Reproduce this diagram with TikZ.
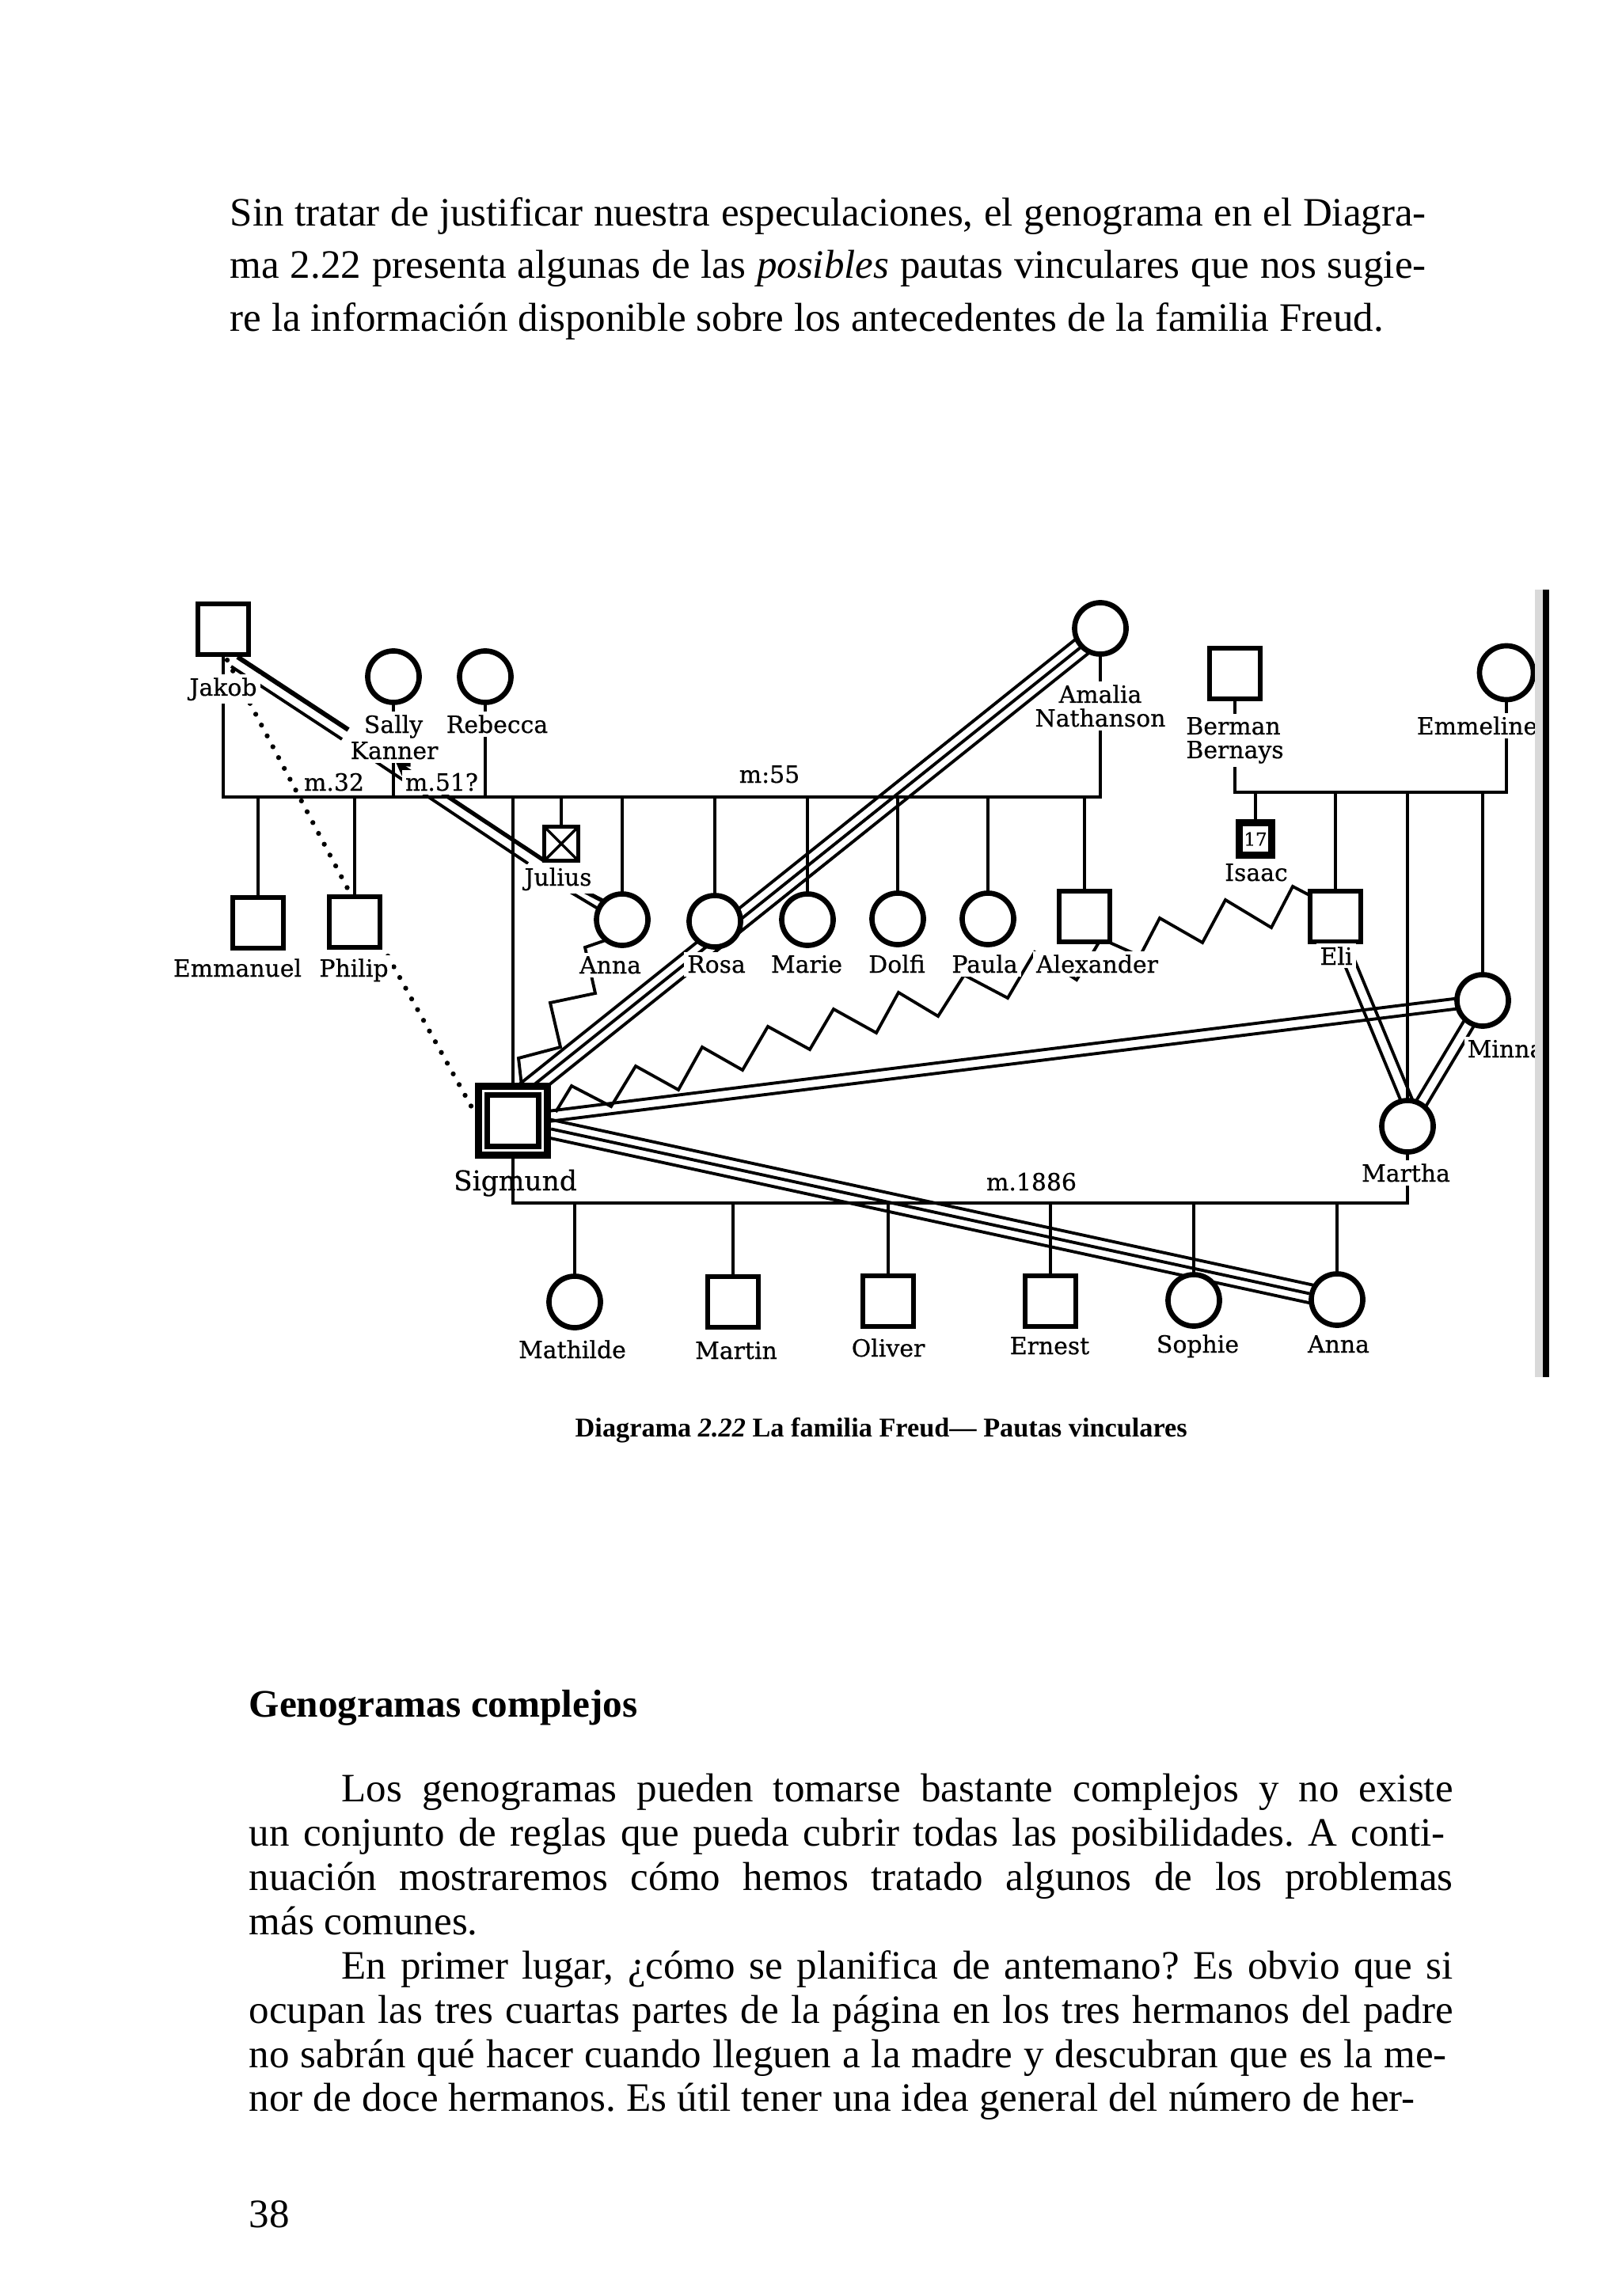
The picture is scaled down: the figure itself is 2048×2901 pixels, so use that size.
\documentclass[tikz,border=0pt]{standalone}
\usepackage{fontspec}
\setmainfont{Liberation Serif}
\newfontfamily\diagfont[FakeBold=0.5]{DejaVu Serif}
\usetikzlibrary{calc,arrows.meta}
\pgfdeclarelayer{back}
\pgfdeclarelayer{lines}
\pgfsetlayers{back,lines,main}
\newcommand\dbl[3]{%
  \draw[ln] ($(#1)!#3!90:(#2)$) -- ($(#2)!#3!-90:(#1)$);
  \draw[ln] ($(#1)!#3!-90:(#2)$) -- ($(#2)!#3!90:(#1)$);}
\newcommand\trp[3]{\dbl{#1}{#2}{#3}\draw[ln] (#1) -- (#2);}
\newcommand\jl[2]{\makebox[#1][s]{#2}}
\frenchspacing
\begin{document}
\begin{tikzpicture}[x=0.01cm,y=-0.01cm,
  ln/.style={line width=1.1pt},
  dots/.style={line width=1.8pt,line cap=round,dash pattern=on 0pt off 4.4pt},
  sq/.style={draw,line width=1.9pt,fill=white,minimum size=0.64cm,inner sep=0pt},
  ci/.style={circle,draw,line width=1.9pt,fill=white,minimum size=0.65cm,inner sep=0pt},
  lb/.style={font=\diagfont\fontsize{8.5}{9}\selectfont,fill=white,inner sep=1.2pt,anchor=base},
  lbt/.style={font=\diagfont\fontsize{8.5}{9}\selectfont,inner sep=1pt,anchor=base},
  body/.style={font=\fontsize{14.5}{16}\selectfont,inner sep=0pt,anchor=base west}]
\begin{pgfonlayer}{back}
\fill[white] (0,0) rectangle (2048,2901);
\end{pgfonlayer}
\useasboundingbox (0,0) rectangle (2048,2901);

% ---------------- body text ----------------
\node[body] (t1) at (290,286) {\jl{15.10cm}{Sin tratar de justificar nuestra especulaciones, el genograma en el Diagra-}};
\node[body] (t2) at (290,352) {\jl{15.10cm}{ma 2.22 presenta algunas de las \textit{posibles} pautas vinculares que nos sugie-}};
\node[body] (t3) at (290,419) {re la información disponible sobre los antecedentes de la familia Freud.};

\node[font=\bfseries\fontsize{9.75}{11}\selectfont,inner sep=0pt,anchor=base west] (cap) at (726,1815) {Diagrama \textit{2.22} La familia Freud— Pautas vinculares};

\node[body,font=\bfseries\fontsize{14}{16}\selectfont] (head) at (314,2169) {Genogramas complejos};
\node[body] (u1) at (431,2276) {\jl{14.03cm}{Los genogramas pueden tomarse bastante complejos y no existe}};
\node[body] (u2) at (314,2332) {\jl{15.10cm}{un conjunto de reglas que pueda cubrir todas las posibilidades. A conti-}};
\node[body] (u3) at (314,2388) {\jl{15.20cm}{nuación mostraremos cómo hemos tratado algunos de los problemas}};
\node[body] (u4) at (314,2444) {más comunes.};
\node[body] (u5) at (431,2500) {\jl{14.03cm}{En primer lugar, ¿cómo se planifica de antemano? Es obvio que si}};
\node[body] (u6) at (314,2556) {\jl{15.20cm}{ocupan las tres cuartas partes de la página en los tres hermanos del padre}};
\node[body] (u7) at (314,2612) {\jl{15.12cm}{no sabrán qué hacer cuando lleguen a la madre y descubran que es la me-}};
\node[body] (u8) at (314,2667) {\jl{14.72cm}{nor de doce hermanos. Es útil tener una idea general del número de her-}};
\node[body] (pg) at (314,2814) {38};

% ---------------- symbols ----------------
\node[sq] (jakob) at (282,795) {};
\node[ci] (sally) at (497,855) {};
\node[ci] (rebecca) at (613,855) {};
\node[ci] (amalia) at (1390,794) {};
\node[sq] (berman) at (1560,851) {};
\node[ci,minimum size=0.68cm] (emmeline) at (1903,850) {};
\node[sq] (emmanuel) at (326,1166) {};
\node[sq] (philip) at (448,1165) {};
\node[sq,minimum size=0.43cm,line width=1.6pt] (julius) at (709,1066) {};
\draw[line width=1pt] ([shift={(5,5)}]julius.north west) -- ([shift={(-5,-5)}]julius.south east)
  ([shift={(-5,5)}]julius.north east) -- ([shift={(5,-5)}]julius.south west);
\node[ci] (anna) at (786,1162) {};
\node[ci] (rosa) at (903,1164) {};
\node[ci] (marie) at (1020,1162) {};
\node[ci] (dolfi) at (1134,1161) {};
\node[ci] (paula) at (1248,1161) {};
\node[sq] (alexander) at (1370,1158) {};
\node[draw,line width=2.6pt,fill=white,minimum size=0.41cm,inner sep=0pt,font=\diagfont\fontsize{6.5}{7}\selectfont] (isaac) at (1586,1060) {17};
\node[sq] (eli) at (1687,1158) {};
\node[ci] (minna) at (1873,1264) {};
\node[ci] (martha) at (1778,1423) {};
\node[draw,line width=2.6pt,fill=white,minimum size=0.87cm,inner sep=0pt] (sig) at (648,1416) {};
\node[draw,line width=1.8pt,minimum size=0.65cm,inner sep=0pt] (sigin) at (sig) {};
\node[ci] (mathilde) at (726,1645) {};
\node[sq] (martin) at (926,1645) {};
\node[sq] (oliver) at (1122,1644) {};
\node[sq] (ernest) at (1327,1644) {};
\node[ci] (sophie) at (1508,1643) {};
\node[ci] (annab) at (1689,1642) {};

% ---------------- labels ----------------
\node[lb] (jakobL) at (282,879) {Jakob};
\node[lb] (sallyL) at (497,926) {Sally};
\node[lb] (kannerL) at (498,959) {Kanner};
\node[lb] (rebeccaL) at (628,926) {Rebecca};
\node[lb] (m32) at (422,999) {m.32};
\node[lb] (m51) at (558,999) {m.51?};
\node[lbt] (m55) at (972,989) {m:55};
\node[lb] (amaliaL) at (1390,888) {Amalia};
\node[lb] (nathL) at (1390,918) {Nathanson};
\node[lb] (bermanL) at (1558,928) {Berman};
\node[lb] (bernaysL) at (1560,958) {Bernays};
\node[lb] (emmL) at (1866,928) {Emmeline};
\node[lb] (juliusL) at (705,1119) {Julius};
\node[lb] (isaacL) at (1587,1113) {Isaac};
\node[lb] (emmanL) at (300,1234) {Emmanuel};
\node[lb] (philipL) at (447,1234) {Philip};
\node[lb] (annaL) at (771,1230) {Anna};
\node[lb] (rosaL) at (905,1229) {Rosa};
\node[lb] (marieL) at (1019,1229) {Marie};
\node[lb] (dolfiL) at (1133,1229) {Dolfi};
\node[lb] (paulaL) at (1244,1229) {Paula};
\node[lb] (alexL) at (1386,1229) {Alexander};
\node[lb] (eliL) at (1688,1219) {Eli};
\node[lb] (minnaL) at (1902,1336) {Minna};
\node[lbt,font=\diagfont\fontsize{9.8}{10}\selectfont] (sigL) at (651,1504) {Sigmund};
\node[lb] (marthaL) at (1776,1493) {Martha};
\node[lbt] (m1886) at (1303,1504) {m.1886};
\node[lb] (mathL) at (723,1716) {Mathilde};
\node[lb] (martinL) at (930,1717) {Martin};
\node[lb] (oliverL) at (1122,1714) {Oliver};
\node[lb] (ernestL) at (1326,1711) {Ernest};
\node[lb] (sophieL) at (1513,1709) {Sophie};
\node[lb] (annabL) at (1691,1709) {Anna};

% scan edge
\fill[black!15] (1939,745) rectangle (1949,1740);
\fill[black] (1949,745) rectangle (1957,1740);

% ---------------- lines ----------------
\begin{pgfonlayer}{lines}
% family lines
\coordinate (mJA) at (700,1007);
\draw[ln] (jakob.south) -- (jakob.south |- mJA) -- (amalia.south |- mJA) -- (amalia.south);
\foreach \n in {sally,rebecca} \draw[ln] (\n.south) -- (\n.south |- mJA);
\foreach \n in {emmanuel,philip,sig,julius,anna,rosa,marie,dolfi,paula,alexander}
  \draw[ln] (\n.north) -- (\n.north |- mJA);
\coordinate (mBE) at (1700,1001);
\draw[ln] (berman.south) -- (berman.south |- mBE) -- (emmeline.south |- mBE) -- (emmeline.south);
\foreach \n in {isaac,eli,martha,minna} \draw[ln] (\n.north) -- (\n.north |- mBE);
\coordinate (mSM) at (1200,1520);
\draw[ln] (sig.south) -- (sig.south |- mSM) -- (martha.south |- mSM) -- (martha.south);
\foreach \n in {mathilde,martin,oliver,ernest,sophie,annab} \draw[ln] (\n.north) -- (\n.north |- mSM);

% relationship lines
\coordinate (jkA) at (300,830); \coordinate (jkB) at (440,922);
\coordinate (jkC) at (292,842); \coordinate (jkD) at (432,934);
\draw[line width=1.7pt] (jkA) -- (jkB);
\draw[ln] (jkC) -- (jkD);
\coordinate (kjA) at (474,962); \coordinate (kjB) at (667,1091);
\coordinate (kjC) at (500,963); \coordinate (kjD) at (687,1087);
\draw[ln] (kjA) -- (kjB);
\draw[line width=1.5pt,{Straight Barb[length=3.5pt,width=4.5pt]}-] (kjC) -- (kjD);
\coordinate (jaA) at (717,1125); \coordinate (jaB) at (757,1149);
\coordinate (jaC) at (734,1124); \coordinate (jaD) at (763,1139);
\draw[ln] (jaA) -- (jaB);
\draw[line width=1.5pt] (jaC) -- (jaD);

\coordinate (dtA) at (287,834); \coordinate (dtB) at (443,1130);
\coordinate (dtC) at (490,1208); \coordinate (dtD) at (602,1410);
\draw[dots] (dtA) -- (dtB);
\draw[dots] (dtC) -- (dtD);

\coordinate (azA) at (765,1188); \coordinate (azB) at (659,1372);
\draw[ln] (azA) -- (739,1197) -- (752,1255) -- (695,1267) -- (708,1323) -- (655,1337) -- (azB);

\coordinate (saA) at (649,1391); \coordinate (saB) at (1385,802);
\trp{saA}{saB}{0.12cm}

\coordinate (zaA) at (702,1405); \coordinate (zaB) at (1388,1191);
\draw[ln] (zaA) -- (722,1372) -- (772,1398) -- (803,1347) -- (857,1377) -- (887,1323)
  -- (938,1352) -- (970,1297) -- (1023,1326) -- (1053,1275) -- (1107,1305) -- (1135,1254)
  -- (1185,1284) -- (1218,1232) -- (1273,1261) -- (1307,1203) -- (1360,1238) -- (zaB);
\coordinate (zeA) at (1402,1191); \coordinate (zeB) at (1654,1131);
\draw[ln] (zeA) -- (1440,1208) -- (1465,1160) -- (1519,1191) -- (1548,1137) -- (1606,1172)
  -- (1633,1120) -- (zeB);

\dbl{sig}{minna}{0.065cm}
\trp{sig}{annab}{0.115cm}
\coordinate (emA) at (1692,1185); \coordinate (emB) at (1781,1400);
\dbl{emA}{emB}{0.07cm}
\dbl{minna}{martha}{0.07cm}
\end{pgfonlayer}
\end{tikzpicture}
\end{document}
